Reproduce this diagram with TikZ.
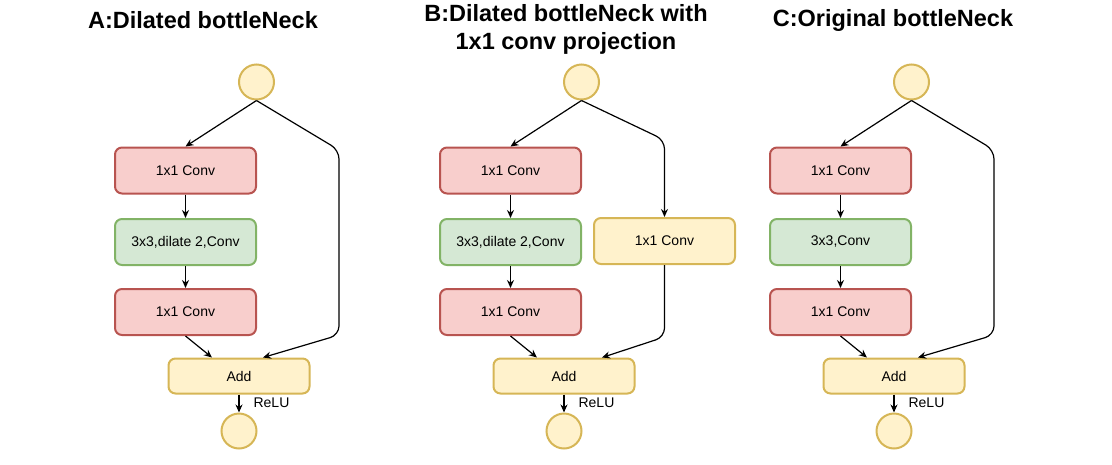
\documentclass[tikz,border=0pt]{standalone}
\usepackage{fontspec}
\setmainfont{Liberation Sans}
\usepackage{tikz}
\usetikzlibrary{arrows.meta, positioning, calc}
\definecolor{redfill}{HTML}{F8CECC}
\definecolor{redline}{HTML}{B85450}
\definecolor{grnfill}{HTML}{D5E8D4}
\definecolor{grnline}{HTML}{82B366}
\definecolor{yelfill}{HTML}{FFF2CC}
\definecolor{yelline}{HTML}{D6B656}

\begin{document}
\begin{tikzpicture}[x=1pt, y=-1pt,
  blk/.style={rounded corners=7pt, line width=2pt, minimum width=141pt, minimum height=46pt, inner sep=0pt, font=\fontsize{14}{16}\selectfont},
  convred/.style={blk, draw=redline, fill=redfill},
  convgrn/.style={blk, draw=grnline, fill=grnfill},
  convyel/.style={blk, draw=yelline, fill=yelfill},
  addbox/.style={convyel, minimum height=35pt},
  io/.style={circle, draw=yelline, fill=yelfill, line width=2pt, minimum size=35pt, inner sep=0pt},
  arr/.style={-{Stealth[length=8pt, width=7pt]}, line width=1.2pt},
  skip/.style={arr, rounded corners=9pt},
  ttl/.style={font=\bfseries\fontsize{23.5}{28}\selectfont, align=center},
  lbl/.style={font=\fontsize{14}{16}\selectfont, anchor=west, inner sep=0pt}]
  \useasboundingbox (0,0) rectangle (1112,464);

  % A and C share one layout
  \foreach \p/\dx/\mtext in {a/0/{3x3,dilate 2,Conv}, c/655/{3x3,Conv}} {
    \node[io] (\p_in) at (256.5+\dx,82) {};
    \node[convred] (\p_c1) at (185.5+\dx,170.5) {1x1 Conv};
    \node[convgrn] (\p_c2) at (185.5+\dx,242) {\mtext};
    \node[convred] (\p_c3) at (185.5+\dx,312) {1x1 Conv};
    \node[addbox] (\p_add) at (239+\dx,376) {Add};
    \node[io] (\p_out) at (239+\dx,431) {};
    \draw[arr] (\p_in.south) -- (\p_c1.north);
    \draw[arr] (\p_c1) -- (\p_c2);
    \draw[arr] (\p_c2) -- (\p_c3);
    \draw[arr] (\p_c3.south) -- ($(\p_add.north)+(-27,0)$);
    \draw[skip] (\p_in.south) -- (339+\dx,150) -- (339+\dx,335) -- ($(\p_add.north)+(24,0)$);
    \draw[arr] (\p_add) -- (\p_out) node[lbl, pos=0.45, xshift=14pt] {ReLU};
  }
  \node[ttl] (a_title) at (203,20) {A:Dilated bottleNeck};
  \node[ttl] (c_title) at (893,20) {C:Original bottleNeck};

  % B: projection on the shortcut
  \node[ttl] (b_title) at (566,29) {B:Dilated bottleNeck with\\1x1 conv projection};
  \node[io] (b_in) at (581.5,82) {};
  \node[convred] (b_c1) at (510.5,170.5) {1x1 Conv};
  \node[convgrn] (b_c2) at (510.5,242) {3x3,dilate 2,Conv};
  \node[convred] (b_c3) at (510.5,312) {1x1 Conv};
  \node[convyel] (b_proj) at (664.5,241) {1x1 Conv};
  \node[addbox] (b_add) at (564,376) {Add};
  \node[io] (b_out) at (564,431) {};
  \draw[arr] (b_in.south) -- (b_c1.north);
  \draw[arr] (b_c1) -- (b_c2);
  \draw[arr] (b_c2) -- (b_c3);
  \draw[arr] (b_c3.south) -- ($(b_add.north)+(-27,0)$);
  \draw[skip] (b_in.south) -- (664.5,140) -- (b_proj.north);
  \draw[skip] (b_proj.south) -- (664.5,337) -- ($(b_add.north)+(38,0)$);
  \draw[arr] (b_add) -- (b_out) node[lbl, pos=0.45, xshift=14pt] {ReLU};
\end{tikzpicture}
\end{document}
